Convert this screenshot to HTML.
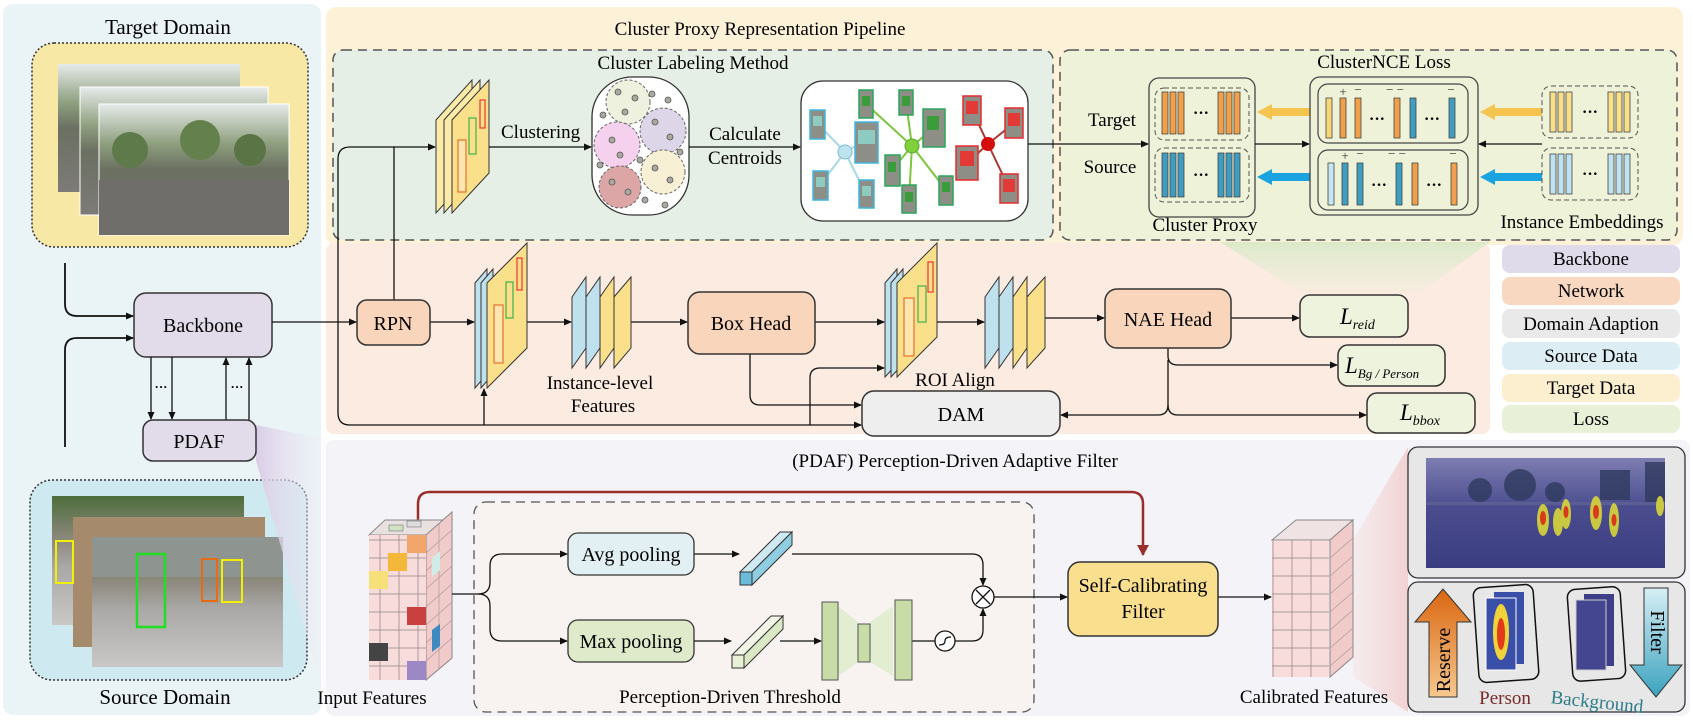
<!DOCTYPE html>
<html><head><meta charset="utf-8"><style>
html,body{margin:0;padding:0;background:#fff;}
svg{display:block;font-family:"Liberation Serif",serif;}
</style></head><body>
<svg width="1693" height="721" viewBox="0 0 1693 721" xmlns="http://www.w3.org/2000/svg">
<defs>
<marker id="ar" markerWidth="8" markerHeight="8" refX="7" refY="4" orient="auto" markerUnits="userSpaceOnUse"><path d="M0,0.5 L8,4 L0,7.5 z" fill="#111"/></marker>
<marker id="arr" markerWidth="12" markerHeight="12" refX="10" refY="6" orient="auto" markerUnits="userSpaceOnUse"><path d="M0,0 L11,6 L0,12 z" fill="#9a2e2a"/></marker>
<pattern id="grid" width="19" height="18" patternUnits="userSpaceOnUse"><rect width="19" height="18" fill="#f8dcdc" stroke="#9a8a8a" stroke-width="0.8"/></pattern>
<linearGradient id="sky" x1="0" y1="0" x2="0" y2="1"><stop offset="0" stop-color="#e6ebea"/><stop offset="0.3" stop-color="#8fa07f"/><stop offset="0.5" stop-color="#6b7061"/><stop offset="1" stop-color="#7d7b78"/></linearGradient>
<linearGradient id="sky2" x1="0" y1="0" x2="0" y2="1"><stop offset="0" stop-color="#4d6d3b"/><stop offset="0.35" stop-color="#8f8a80"/><stop offset="0.55" stop-color="#a9a8a6"/><stop offset="1" stop-color="#c9c8c6"/></linearGradient>
<linearGradient id="heat" x1="0" y1="0" x2="0" y2="1"><stop offset="0" stop-color="#7e7eb2"/><stop offset="0.45" stop-color="#4a4c8e"/><stop offset="1" stop-color="#3a3d80"/></linearGradient>
<linearGradient id="wedgeP" x1="0" y1="0" x2="1" y2="0"><stop offset="0" stop-color="#d9cde6"/><stop offset="1" stop-color="#f3f2f6" stop-opacity="0.2"/></linearGradient>
<linearGradient id="wedgeR" x1="0" y1="0" x2="1" y2="0"><stop offset="0" stop-color="#f6dada" stop-opacity="0.3"/><stop offset="1" stop-color="#f1d2d2"/></linearGradient>
<linearGradient id="wedgeG" x1="0" y1="0" x2="0" y2="1"><stop offset="0" stop-color="#dbe9c8"/><stop offset="1" stop-color="#e9eedb" stop-opacity="0.3"/></linearGradient>
<linearGradient id="resv" x1="0" y1="1" x2="0" y2="0"><stop offset="0" stop-color="#f7c88e"/><stop offset="1" stop-color="#d9660f"/></linearGradient>
<linearGradient id="filt" x1="0" y1="0" x2="0" y2="1"><stop offset="0" stop-color="#d7eff5"/><stop offset="1" stop-color="#3aa2be"/></linearGradient>
</defs>

<rect x="3" y="4" width="318" height="711" rx="10" fill="#eaf4f7"/>
<text x="168" y="34" font-size="21" text-anchor="middle">Target Domain</text>
<rect x="32" y="43" width="276" height="204" rx="22" fill="#f8e8a6" stroke="#333" stroke-width="1.5" stroke-dasharray="2,2"/>
<rect x="58" y="64" width="182" height="128" fill="url(#sky)"/>
<rect x="80" y="87" width="188" height="128" fill="url(#sky)" stroke="#fff" stroke-width="1"/>
<rect x="99" y="104" width="190" height="131" fill="url(#sky)" stroke="#fff" stroke-width="1"/>
<rect x="99" y="180" width="190" height="55" fill="#6f6e6b"/>
<circle cx="130" cy="150" r="18" fill="#5f7a4a"/><circle cx="200" cy="140" r="20" fill="#63804d"/><circle cx="250" cy="150" r="16" fill="#5a7445"/>

<rect x="30" y="480" width="277" height="200" rx="22" fill="#cfe9f0" stroke="#333" stroke-width="1.5" stroke-dasharray="2,2"/>
<rect x="52" y="496" width="192" height="129" fill="url(#sky2)"/>
<rect x="73" y="517" width="192" height="130" fill="#a58a6c"/>
<rect x="92" y="537" width="191" height="130" fill="url(#sky2)"/>
<rect x="92" y="537" width="191" height="40" fill="#8e948f"/>
<rect x="56" y="541" width="17" height="42" fill="none" stroke="#f0f000" stroke-width="2"/>
<rect x="137" y="554" width="28" height="73" fill="none" stroke="#22dd22" stroke-width="2.5"/>
<rect x="202" y="559" width="15" height="42" fill="none" stroke="#e66b12" stroke-width="2"/>
<rect x="222" y="560" width="20" height="42" fill="none" stroke="#f0f000" stroke-width="2"/>
<text x="165" y="704" font-size="21" text-anchor="middle">Source Domain</text>

<rect x="326" y="7" width="1357" height="238" rx="10" fill="#fdf2d8"/>
<text x="760" y="35" font-size="19" text-anchor="middle">Cluster Proxy Representation Pipeline</text>
<rect x="326" y="243" width="1164" height="191" rx="8" fill="#fcebe0"/>
<polygon points="1220,242 1490,242 1420,292 1300,292" fill="url(#wedgeG)"/>
<rect x="333" y="50" width="720" height="190" rx="10" fill="#e6efe5" stroke="#555" stroke-width="1.5" stroke-dasharray="9,6"/>
<rect x="1060" y="50" width="617" height="190" rx="10" fill="#eef2d8" stroke="#555" stroke-width="1.5" stroke-dasharray="9,6"/>
<text x="693" y="69" font-size="19" text-anchor="middle">Cluster Labeling Method</text>
<text x="1384" y="68" font-size="19" text-anchor="middle">ClusterNCE Loss</text>

<g stroke="#333" stroke-width="1">
<polygon points="436,120 472,80 472,173 436,213" fill="#fbeaa8"/>
<polygon points="444,120 480,80 480,173 444,213" fill="#fbeaa8"/>
<polygon points="452,120 489,80 489,173 452,213" fill="#fbe08c"/>
</g>
<rect x="458" y="140" width="8" height="52" fill="#fde6b0" stroke="#e8702a" stroke-width="1.2"/>
<rect x="469" y="118" width="7" height="36" fill="none" stroke="#3cb04a" stroke-width="1.2"/>
<rect x="480" y="100" width="5" height="28" fill="none" stroke="#e33" stroke-width="1.2"/>
<text x="501" y="138" font-size="19">Clustering</text>
<line x1="489" y1="147" x2="591" y2="147" stroke="#111" stroke-width="1.3" marker-end="url(#ar)"/>

<rect x="592" y="77" width="97" height="138" rx="40" fill="#fff" stroke="#333" stroke-width="1.3"/>
<g stroke="#666" stroke-dasharray="3,2" stroke-width="1">
<circle cx="628" cy="102" r="22" fill="#eef1de"/>
<circle cx="663" cy="131" r="23" fill="#dcd6e8"/>
<circle cx="617" cy="145" r="23" fill="#f6d1ee"/>
<circle cx="663" cy="172" r="22" fill="#f7f0d4"/>
<circle cx="620" cy="187" r="21" fill="#dca5a6"/>
</g>
<g fill="#a9a99f" stroke="#555" stroke-width="0.8">
<circle cx="618" cy="92" r="3"/><circle cx="635" cy="98" r="3"/><circle cx="625" cy="112" r="3"/><circle cx="655" cy="122" r="3"/><circle cx="670" cy="137" r="3"/><circle cx="612" cy="140" r="3"/><circle cx="620" cy="155" r="3"/><circle cx="655" cy="168" r="3"/><circle cx="670" cy="180" r="3"/><circle cx="612" cy="182" r="3"/><circle cx="628" cy="192" r="3"/><circle cx="652" cy="94" r="3"/><circle cx="668" cy="100" r="3"/><circle cx="603" cy="115" r="3"/><circle cx="640" cy="160" r="3"/><circle cx="645" cy="200" r="3"/><circle cx="665" cy="205" r="3"/><circle cx="680" cy="152" r="3"/><circle cx="600" cy="165" r="3"/>
</g>
<text x="745" y="140" font-size="19" text-anchor="middle">Calculate</text>
<text x="745" y="164" font-size="19" text-anchor="middle">Centroids</text>
<line x1="689" y1="147" x2="800" y2="147" stroke="#111" stroke-width="1.3" marker-end="url(#ar)"/>

<rect x="801" y="81" width="227" height="140" rx="22" fill="#fff" stroke="#333" stroke-width="1.3"/>
<g stroke="#a8d8e6" stroke-width="2"><line x1="845" y1="152" x2="818" y2="124"/><line x1="845" y1="152" x2="866" y2="140"/><line x1="845" y1="152" x2="820" y2="185"/><line x1="845" y1="152" x2="866" y2="194"/></g>
<g stroke="#7cc63c" stroke-width="2"><line x1="912" y1="146" x2="866" y2="104"/><line x1="912" y1="146" x2="906" y2="102"/><line x1="912" y1="146" x2="934" y2="128"/><line x1="912" y1="146" x2="892" y2="170"/><line x1="912" y1="146" x2="909" y2="199"/><line x1="912" y1="146" x2="946" y2="190"/></g>
<g stroke="#a83a30" stroke-width="2"><line x1="988" y1="144" x2="972" y2="110"/><line x1="988" y1="144" x2="1014" y2="123"/><line x1="988" y1="144" x2="967" y2="163"/><line x1="988" y1="144" x2="1009" y2="188"/></g>
<g stroke-width="1.5" fill="#8d8f86">
<rect x="810" y="110" width="15" height="29" stroke="#3fb7e0"/><rect x="855" y="122" width="23" height="41" stroke="#3fb7e0"/><rect x="813" y="171" width="15" height="29" stroke="#3fb7e0"/><rect x="859" y="180" width="15" height="28" stroke="#3fb7e0"/>
<rect x="859" y="90" width="14" height="28" stroke="#2aa55a"/><rect x="899" y="90" width="14" height="25" stroke="#2aa55a"/><rect x="923" y="109" width="22" height="38" stroke="#2aa55a"/><rect x="885" y="155" width="15" height="31" stroke="#2aa55a"/><rect x="902" y="185" width="14" height="28" stroke="#2aa55a"/><rect x="939" y="176" width="14" height="29" stroke="#2aa55a"/>
<rect x="963" y="96" width="18" height="29" stroke="#e52b2b"/><rect x="1005" y="108" width="18" height="30" stroke="#e52b2b"/><rect x="956" y="146" width="22" height="34" stroke="#e52b2b"/><rect x="1000" y="174" width="18" height="29" stroke="#e52b2b"/>
</g>
<g fill="#3a9c3a"><rect x="862" y="96" width="8" height="10"/><rect x="902" y="96" width="8" height="10"/><rect x="927" y="116" width="12" height="14"/><rect x="888" y="162" width="8" height="10"/><rect x="905" y="192" width="8" height="10"/><rect x="942" y="182" width="8" height="10"/></g>
<g fill="#e23a36"><rect x="966" y="101" width="12" height="13"/><rect x="1008" y="113" width="12" height="13"/><rect x="960" y="151" width="14" height="15"/><rect x="1003" y="179" width="12" height="13"/></g>
<g fill="#8dcbc0"><rect x="813" y="116" width="9" height="10"/><rect x="858" y="130" width="17" height="14"/><rect x="816" y="177" width="9" height="10"/><rect x="862" y="186" width="9" height="10"/></g>
<circle cx="845" cy="152" r="7" fill="#bde3ee" stroke="#7bbcd3"/>
<circle cx="912" cy="146" r="7" fill="#7fd03c" stroke="#5aa62a"/>
<circle cx="988" cy="144" r="7" fill="#d40d0d"/>
<line x1="1028" y1="144" x2="1148" y2="144" stroke="#111" stroke-width="1.3" marker-end="url(#ar)"/>

<text x="1112" y="126" font-size="19" text-anchor="middle">Target</text>
<text x="1110" y="173" font-size="19" text-anchor="middle">Source</text>
<rect x="1149" y="78" width="106" height="139" rx="10" fill="none" stroke="#444" stroke-width="1.3"/>
<rect x="1155" y="88" width="94" height="52" rx="9" fill="none" stroke="#555" stroke-dasharray="5,3"/>
<rect x="1155" y="148" width="94" height="54" rx="9" fill="none" stroke="#555" stroke-dasharray="5,3"/>
<g fill="#f0a04a" stroke="#444" stroke-width="0.8"><rect x="1162" y="92" width="6" height="42"/><rect x="1170" y="92" width="6" height="42"/><rect x="1178" y="92" width="6" height="42"/><rect x="1218" y="92" width="6" height="42"/><rect x="1226" y="92" width="6" height="42"/><rect x="1234" y="92" width="6" height="42"/></g>
<g fill="#3f9ec0" stroke="#444" stroke-width="0.8"><rect x="1162" y="153" width="6" height="44"/><rect x="1170" y="153" width="6" height="44"/><rect x="1178" y="153" width="6" height="44"/><rect x="1218" y="153" width="6" height="44"/><rect x="1226" y="153" width="6" height="44"/><rect x="1234" y="153" width="6" height="44"/></g>
<text x="1201" y="118" font-size="16" text-anchor="middle" font-weight="bold">···</text>
<text x="1201" y="180" font-size="16" text-anchor="middle" font-weight="bold">···</text>
<text x="1205" y="231" font-size="19" text-anchor="middle">Cluster Proxy</text>
<line x1="1255" y1="144" x2="1309" y2="144" stroke="#111" stroke-width="1.3" marker-end="url(#ar)"/>
<path d="M1310,108 L1272,108 L1272,104 L1257,112 L1272,120 L1272,116 L1310,116 z" fill="#f5c44e"/>
<path d="M1310,173 L1272,173 L1272,169 L1257,177 L1272,185 L1272,181 L1310,181 z" fill="#1aa3e0"/>

<rect x="1310" y="77" width="168" height="138" rx="10" fill="none" stroke="#444" stroke-width="1.3"/>
<rect x="1318" y="84" width="150" height="59" rx="10" fill="none" stroke="#444" stroke-width="1.2"/>
<rect x="1318" y="150" width="150" height="60" rx="10" fill="none" stroke="#444" stroke-width="1.2"/>
<g stroke="#444" stroke-width="0.8">
<rect x="1326" y="98" width="6" height="40" fill="#f8d77a"/><rect x="1340" y="98" width="6" height="40" fill="#f0a04a"/><rect x="1355" y="98" width="6" height="40" fill="#f0a04a"/><rect x="1394" y="98" width="6" height="40" fill="#f0a04a"/><rect x="1410" y="98" width="6" height="40" fill="#3f9ec0"/><rect x="1449" y="98" width="6" height="40" fill="#3f9ec0"/>
<rect x="1328" y="163" width="6" height="42" fill="#c6e6f2"/><rect x="1342" y="163" width="6" height="42" fill="#3f9ec0"/><rect x="1357" y="163" width="6" height="42" fill="#3f9ec0"/><rect x="1396" y="163" width="6" height="42" fill="#3f9ec0"/><rect x="1412" y="163" width="6" height="42" fill="#f0a04a"/><rect x="1451" y="163" width="6" height="42" fill="#f0a04a"/>
</g>
<g font-size="13" text-anchor="middle" fill="#333"><text x="1343" y="96">+</text><text x="1358" y="94">−</text><text x="1395" y="94">− −</text><text x="1451" y="94">−</text><text x="1345" y="160">+</text><text x="1360" y="158">−</text><text x="1397" y="158">− −</text><text x="1453" y="158">−</text></g>
<text x="1377" y="124" font-size="16" text-anchor="middle" font-weight="bold">···</text>
<text x="1432" y="124" font-size="16" text-anchor="middle" font-weight="bold">···</text>
<text x="1379" y="190" font-size="16" text-anchor="middle" font-weight="bold">···</text>
<text x="1434" y="190" font-size="16" text-anchor="middle" font-weight="bold">···</text>
<line x1="1542" y1="144" x2="1479" y2="144" stroke="#111" stroke-width="1.3" marker-end="url(#ar)"/>
<path d="M1542,108 L1495,108 L1495,104 L1480,112 L1495,120 L1495,116 L1542,116 z" fill="#f5c44e"/>
<path d="M1542,173 L1495,173 L1495,169 L1480,177 L1495,185 L1495,181 L1542,181 z" fill="#1aa3e0"/>
<rect x="1542" y="86" width="96" height="52" rx="9" fill="none" stroke="#555" stroke-dasharray="5,3"/>
<rect x="1542" y="148" width="96" height="52" rx="9" fill="none" stroke="#555" stroke-dasharray="5,3"/>
<g fill="#f8df8a" stroke="#444" stroke-width="0.8"><rect x="1550" y="92" width="6" height="40"/><rect x="1558" y="92" width="6" height="40"/><rect x="1566" y="92" width="6" height="40"/><rect x="1608" y="92" width="6" height="40"/><rect x="1616" y="92" width="6" height="40"/><rect x="1624" y="92" width="6" height="40"/></g>
<g fill="#bfe2f0" stroke="#444" stroke-width="0.8"><rect x="1550" y="154" width="6" height="40"/><rect x="1558" y="154" width="6" height="40"/><rect x="1566" y="154" width="6" height="40"/><rect x="1608" y="154" width="6" height="40"/><rect x="1616" y="154" width="6" height="40"/><rect x="1624" y="154" width="6" height="40"/></g>
<text x="1590" y="117" font-size="16" text-anchor="middle" font-weight="bold">···</text>
<text x="1590" y="179" font-size="16" text-anchor="middle" font-weight="bold">···</text>
<text x="1582" y="228" font-size="19" text-anchor="middle">Instance Embeddings</text>

<g font-size="19" text-anchor="middle">
<rect x="1502" y="245" width="178" height="28" rx="8" fill="#e0dbea"/><text x="1591" y="265">Backbone</text>
<rect x="1502" y="277" width="178" height="28" rx="8" fill="#f8d8c0"/><text x="1591" y="297">Network</text>
<rect x="1502" y="309" width="178" height="29" rx="8" fill="#e9e9e9"/><text x="1591" y="330">Domain Adaption</text>
<rect x="1502" y="342" width="178" height="28" rx="8" fill="#dcedf3"/><text x="1591" y="362">Source Data</text>
<rect x="1502" y="374" width="178" height="28" rx="8" fill="#fbefcf"/><text x="1591" y="394">Target Data</text>
<rect x="1502" y="405" width="178" height="28" rx="8" fill="#e9f0d8"/><text x="1591" y="425">Loss</text>
</g>

<rect x="326" y="440" width="1364" height="276" rx="8" fill="#f4f3f7"/>
<polygon points="256,425 256,461 330,715 330,440" fill="url(#wedgeP)"/>
<text x="955" y="467" font-size="19" text-anchor="middle">(PDAF) Perception-Driven Adaptive Filter</text>

<rect x="134" y="293" width="138" height="64" rx="12" fill="#e1dbea" stroke="#333" stroke-width="1.5"/>
<text x="203" y="332" font-size="20" text-anchor="middle">Backbone</text>
<path d="M65,263 L65,304 Q65,316 77,316 L133,316" fill="none" stroke="#111" stroke-width="1.8" marker-end="url(#ar)"/>
<path d="M65,447 L65,350 Q65,338 77,338 L133,338" fill="none" stroke="#111" stroke-width="1.8" marker-end="url(#ar)"/>
<g stroke="#111" stroke-width="1.3" fill="none">
<line x1="151" y1="357" x2="151" y2="419" marker-end="url(#ar)"/><line x1="172" y1="357" x2="172" y2="419" marker-end="url(#ar)"/>
<line x1="226" y1="420" x2="226" y2="358" marker-end="url(#ar)"/><line x1="249" y1="420" x2="249" y2="358" marker-end="url(#ar)"/>
</g>
<text x="161" y="391" font-size="13" text-anchor="middle" font-weight="bold">···</text>
<text x="237" y="391" font-size="13" text-anchor="middle" font-weight="bold">···</text>
<rect x="143" y="420" width="113" height="41" rx="10" fill="#e1dbea" stroke="#333" stroke-width="1.5"/>
<text x="199" y="448" font-size="20" text-anchor="middle">PDAF</text>

<g stroke="#111" stroke-width="1.3" fill="none">
<line x1="272" y1="322" x2="356" y2="322" marker-end="url(#ar)"/>
<path d="M338,322 L338,159 Q338,147 350,147 L435,147" marker-end="url(#ar)"/>
<line x1="394" y1="300" x2="394" y2="147"/>
<path d="M338,322 L338,413 Q338,425 350,425 L861,425" marker-end="url(#ar)"/>
<line x1="484" y1="425" x2="484" y2="389" marker-end="url(#ar)"/>
<line x1="430" y1="322" x2="474" y2="322" marker-end="url(#ar)"/>
<line x1="527" y1="322" x2="571" y2="322" marker-end="url(#ar)"/>
<line x1="631" y1="322" x2="687" y2="322" marker-end="url(#ar)"/>
<line x1="815" y1="322" x2="884" y2="322" marker-end="url(#ar)"/>
<line x1="937" y1="322" x2="984" y2="322" marker-end="url(#ar)"/>
<line x1="1045" y1="318" x2="1104" y2="318" marker-end="url(#ar)"/>
<line x1="1231" y1="318" x2="1299" y2="318" marker-end="url(#ar)"/>
<path d="M750,354 L750,395 Q750,405 760,405 L861,405" marker-end="url(#ar)"/>
<path d="M810,425 L810,378 Q810,368 820,368 L884,368" marker-end="url(#ar)"/>
<path d="M1168,348 L1168,356 Q1168,365 1178,365 L1337,365" marker-end="url(#ar)"/>
<path d="M1168,360 L1168,405 Q1168,415 1158,415 L1061,415" marker-end="url(#ar)"/>
<path d="M1168,405 Q1168,415 1178,415 L1366,415" marker-end="url(#ar)"/>
</g>

<rect x="357" y="300" width="73" height="45" rx="10" fill="#f9d5bb" stroke="#333" stroke-width="1.5"/>
<text x="393" y="330" font-size="20" text-anchor="middle">RPN</text>

<g stroke="#333" stroke-width="1">
<polygon points="475,283 487,269 487,374 475,388" fill="#bfe1ee"/>
<polygon points="481,283 493,269 493,374 481,388" fill="#bfe1ee"/>
<polygon points="487,283 527,243 527,348 487,388" fill="#fbe08c"/>
</g>
<rect x="494" y="305" width="9" height="58" fill="#fde6b0" stroke="#e8702a" stroke-width="1.2"/>
<rect x="506" y="282" width="7" height="36" fill="none" stroke="#3cb04a" stroke-width="1.2"/>
<rect x="517" y="258" width="5" height="32" fill="none" stroke="#e33" stroke-width="1.2"/>

<g stroke="#333" stroke-width="1">
<polygon points="572,297 586,277 586,348 572,368" fill="#bfe1ee"/>
<polygon points="586,297 600,277 600,348 586,368" fill="#bfe1ee"/>
<polygon points="600,297 614,277 614,348 600,368" fill="#fbe08c"/>
<polygon points="614,297 631,277 631,348 614,368" fill="#fbe08c"/>
</g>
<text x="600" y="389" font-size="19" text-anchor="middle">Instance-level</text>
<text x="603" y="412" font-size="19" text-anchor="middle">Features</text>

<rect x="688" y="292" width="127" height="62" rx="12" fill="#f9d5bb" stroke="#333" stroke-width="1.5"/>
<text x="751" y="330" font-size="20" text-anchor="middle">Box Head</text>

<g stroke="#333" stroke-width="1">
<polygon points="885,283 897,269 897,364 885,377" fill="#bfe1ee"/>
<polygon points="891,283 903,269 903,364 891,377" fill="#bfe1ee"/>
<polygon points="897,283 937,243 937,337 897,377" fill="#fbe08c"/>
</g>
<rect x="904" y="298" width="10" height="58" fill="#fde6b0" stroke="#e8702a" stroke-width="1.2"/>
<rect x="918" y="286" width="8" height="36" fill="none" stroke="#3cb04a" stroke-width="1.2"/>
<rect x="928" y="262" width="5" height="30" fill="none" stroke="#e33" stroke-width="1.2"/>
<text x="955" y="386" font-size="19" text-anchor="middle">ROI Align</text>

<g stroke="#333" stroke-width="1">
<polygon points="985,297 999,277 999,348 985,368" fill="#bfe1ee"/>
<polygon points="999,297 1013,277 1013,348 999,368" fill="#bfe1ee"/>
<polygon points="1013,297 1027,277 1027,348 1013,368" fill="#fbe08c"/>
<polygon points="1027,297 1045,277 1045,348 1027,368" fill="#fbe08c"/>
</g>

<rect x="862" y="391" width="198" height="45" rx="12" fill="#eeeeee" stroke="#333" stroke-width="1.5"/>
<text x="961" y="421" font-size="20" text-anchor="middle">DAM</text>

<rect x="1105" y="289" width="126" height="59" rx="12" fill="#f9d5bb" stroke="#333" stroke-width="1.5"/>
<text x="1168" y="326" font-size="20" text-anchor="middle">NAE Head</text>

<g font-style="italic">
<rect x="1300" y="295" width="108" height="42" rx="10" fill="#edf3dc" stroke="#333" stroke-width="1.5"/>
<text x="1340" y="324" font-size="23">L<tspan font-size="14" dy="5">reid</tspan></text>
<rect x="1338" y="345" width="107" height="41" rx="10" fill="#edf3dc" stroke="#333" stroke-width="1.5"/>
<text x="1345" y="373" font-size="23">L<tspan font-size="13" dy="5">Bg / Person</tspan></text>
<rect x="1367" y="393" width="108" height="40" rx="10" fill="#edf3dc" stroke="#333" stroke-width="1.5"/>
<text x="1400" y="420" font-size="23">L<tspan font-size="14" dy="5">bbox</tspan></text>
</g>

<rect x="474" y="502" width="560" height="210" rx="12" fill="#f8f3f0" stroke="#555" stroke-width="1.3" stroke-dasharray="9,6"/>
<path d="M418,525 L418,504 Q418,492 430,492 L1131,492 Q1143,492 1143,504 L1143,555" fill="none" stroke="#9a2e2a" stroke-width="2.5" marker-end="url(#arr)"/>
<polygon points="369,535 385,520 452,520 436,535" fill="#e9e0e0" stroke="#888"/>
<polygon points="426,535 452,512 452,658 426,680" fill="#f1caca" stroke="#888"/>
<g stroke="#b09a9a" stroke-width="0.7"><line x1="426" y1="553" x2="452" y2="530"/><line x1="426" y1="571" x2="452" y2="548"/><line x1="426" y1="589" x2="452" y2="566"/><line x1="426" y1="607" x2="452" y2="584"/><line x1="426" y1="625" x2="452" y2="602"/><line x1="426" y1="643" x2="452" y2="620"/><line x1="426" y1="661" x2="452" y2="638"/><line x1="439" y1="523" x2="439" y2="669"/></g>
<rect x="369" y="535" width="57" height="145" fill="url(#grid)"/>
<g stroke="#777" stroke-width="0.6"><rect x="389" y="525" width="14" height="6" fill="#cfe3c2"/><rect x="407" y="521" width="14" height="6" fill="#ddd"/></g>
<rect x="388" y="553" width="19" height="18" fill="#f3b83a"/><rect x="407" y="535" width="19" height="18" fill="#f2a66c"/><rect x="369" y="571" width="19" height="18" fill="#f6e07a"/><rect x="407" y="607" width="19" height="18" fill="#c94040"/><rect x="369" y="643" width="19" height="18" fill="#444"/><rect x="407" y="661" width="19" height="19" fill="#9c88c5"/>
<polygon points="432,630 440,624 440,646 432,652" fill="#3c8ac0"/><polygon points="432,558 440,551 440,570 432,577" fill="#cfece6"/>
<text x="372" y="704" font-size="19" text-anchor="middle">Input Features</text>

<g stroke="#111" stroke-width="1.3" fill="none">
<path d="M452,594 L478,594 Q490,594 490,582 L490,566 Q490,554 502,554 L567,554" marker-end="url(#ar)"/>
<path d="M478,594 Q490,594 490,606 L490,629 Q490,641 502,641 L567,641" marker-end="url(#ar)"/>
<line x1="694" y1="554" x2="739" y2="554" marker-end="url(#ar)"/>
<line x1="694" y1="641" x2="731" y2="641" marker-end="url(#ar)"/>
<line x1="780" y1="641" x2="821" y2="641" marker-end="url(#ar)"/>
<path d="M792,554 L972,554 Q983,554 983,565 L983,585" marker-end="url(#ar)"/>
<line x1="912" y1="641" x2="935" y2="641"/>
<path d="M955,641 L972,641 Q983,641 983,630 L983,609" marker-end="url(#ar)"/>
<line x1="994" y1="597" x2="1067" y2="597" marker-end="url(#ar)"/>
<line x1="1218" y1="597" x2="1271" y2="597" marker-end="url(#ar)"/>
</g>
<rect x="568" y="533" width="126" height="42" rx="10" fill="#e2f0f4" stroke="#333" stroke-width="1.3"/>
<text x="631" y="561" font-size="20" text-anchor="middle">Avg pooling</text>
<rect x="568" y="620" width="126" height="42" rx="10" fill="#dfeacb" stroke="#333" stroke-width="1.3"/>
<text x="631" y="648" font-size="20" text-anchor="middle">Max pooling</text>
<g stroke="#333" stroke-width="1">
<polygon points="740,572 780,532 792,532 752,572" fill="#cfe9f2"/>
<polygon points="740,572 752,572 752,585 740,585" fill="#6bbad8"/>
<polygon points="752,572 792,532 792,545 752,585" fill="#8fcde3"/>
<polygon points="732,655 771,616 783,616 744,655" fill="#f1f6e6"/>
<polygon points="732,655 744,655 744,668 732,668" fill="#e8f0d6"/>
<polygon points="744,655 783,616 783,629 744,668" fill="#dbe8c5"/>
</g>
<polygon points="838,606 858,622 858,662 838,676" fill="#dcebc9" opacity="0.8"/>
<polygon points="870,622 893,606 893,676 870,662" fill="#dcebc9" opacity="0.8"/>
<g stroke="#555" stroke-width="1" fill="#c8dca8">
<rect x="822" y="602" width="16" height="78"/><rect x="858" y="624" width="12" height="38"/><rect x="895" y="600" width="17" height="80"/>
</g>
<circle cx="945" cy="641" r="10" fill="#fff" stroke="#111" stroke-width="1.3"/>
<path d="M939,645 Q945,645 945,641 Q945,637 951,637" fill="none" stroke="#111" stroke-width="1.2"/>
<circle cx="983" cy="597" r="11" fill="#fff" stroke="#111" stroke-width="1.3"/>
<path d="M976,590 L990,604 M990,590 L976,604" stroke="#111" stroke-width="1.3"/>
<text x="730" y="703" font-size="19" text-anchor="middle">Perception-Driven Threshold</text>

<rect x="1068" y="562" width="150" height="74" rx="12" fill="#fadf8e" stroke="#333" stroke-width="1.5"/>
<text x="1143" y="592" font-size="20" text-anchor="middle">Self-Calibrating</text>
<text x="1143" y="618" font-size="20" text-anchor="middle">Filter</text>

<polygon points="1353,540 1408,447 1408,712 1353,677" fill="url(#wedgeR)"/>
<polygon points="1272,540 1296,520 1353,520 1330,540" fill="#efe3e3" stroke="#888"/>
<polygon points="1330,540 1353,520 1353,657 1330,677" fill="#f1caca" stroke="#888"/>
<g stroke="#b09a9a" stroke-width="0.7"><line x1="1330" y1="558" x2="1353" y2="538"/><line x1="1330" y1="576" x2="1353" y2="556"/><line x1="1330" y1="594" x2="1353" y2="574"/><line x1="1330" y1="612" x2="1353" y2="592"/><line x1="1330" y1="630" x2="1353" y2="610"/><line x1="1330" y1="648" x2="1353" y2="628"/><line x1="1330" y1="666" x2="1353" y2="646"/></g>
<rect x="1272" y="540" width="57" height="137" fill="url(#grid)"/>
<text x="1314" y="703" font-size="19" text-anchor="middle">Calibrated Features</text>

<rect x="1408" y="447" width="277" height="131" rx="10" fill="#e7e7e7" stroke="#333" stroke-width="1.3"/>
<rect x="1426" y="458" width="239" height="110" fill="url(#heat)"/>
<g fill="#2f3a5e" opacity="0.8"><circle cx="1480" cy="490" r="12"/><circle cx="1520" cy="485" r="16"/><circle cx="1555" cy="492" r="10"/><rect x="1600" y="470" width="30" height="30"/><rect x="1645" y="462" width="20" height="40"/></g>
<rect x="1426" y="502" width="239" height="3" fill="#5a5e95"/>
<g fill="#d8d63a" opacity="0.9"><ellipse cx="1543" cy="520" rx="6" ry="16"/><ellipse cx="1558" cy="522" rx="5" ry="14"/><ellipse cx="1566" cy="514" rx="5" ry="15"/><ellipse cx="1596" cy="513" rx="6" ry="17"/><ellipse cx="1614" cy="520" rx="5" ry="17"/><ellipse cx="1660" cy="506" rx="4" ry="10"/></g>
<g fill="#d83a1a"><ellipse cx="1543" cy="518" rx="3" ry="7"/><ellipse cx="1566" cy="512" rx="2.5" ry="6"/><ellipse cx="1596" cy="512" rx="3" ry="7"/><ellipse cx="1614" cy="520" rx="2.5" ry="6"/></g>
<rect x="1408" y="582" width="277" height="130" rx="10" fill="#e7e7e7" stroke="#333" stroke-width="1.3"/>
<polygon points="1429,697 1429,622 1415,622 1443,589 1471,622 1457,622 1457,697" fill="url(#resv)" stroke="#333" stroke-width="1"/>
<text transform="translate(1450,660) rotate(-90)" font-size="20" text-anchor="middle">Reserve</text>
<rect x="1476" y="586" width="60" height="95" rx="8" fill="none" stroke="#111" stroke-width="1.5" transform="rotate(-4 1506 633)"/>
<rect x="1494" y="592" width="30" height="72" fill="#3a4fa8"/><rect x="1486" y="598" width="30" height="72" fill="#3a4fa8" stroke="#fff"/>
<ellipse cx="1501" cy="632" rx="8" ry="28" fill="#f0d23a"/><ellipse cx="1501" cy="634" rx="4" ry="16" fill="#e23a1a"/>
<text x="1505" y="704" font-size="19" fill="#7a2a2a" text-anchor="middle">Person</text>
<rect x="1570" y="588" width="53" height="92" rx="8" fill="none" stroke="#111" stroke-width="1.5" transform="rotate(-4 1596 634)"/>
<rect x="1584" y="594" width="30" height="72" fill="#3e3f88"/><rect x="1576" y="600" width="30" height="70" fill="#44468f" stroke="#ccc"/>
<text x="1597" y="708" font-size="19" fill="#2c7c88" text-anchor="middle" transform="rotate(6 1597 702)">Background</text>
<polygon points="1644,588 1668,588 1668,665 1682,665 1656,697 1630,665 1644,665" fill="url(#filt)" stroke="#333" stroke-width="1"/>
<text transform="translate(1651,632) rotate(90)" font-size="20" text-anchor="middle">Filter</text>
</svg>
</body></html>
